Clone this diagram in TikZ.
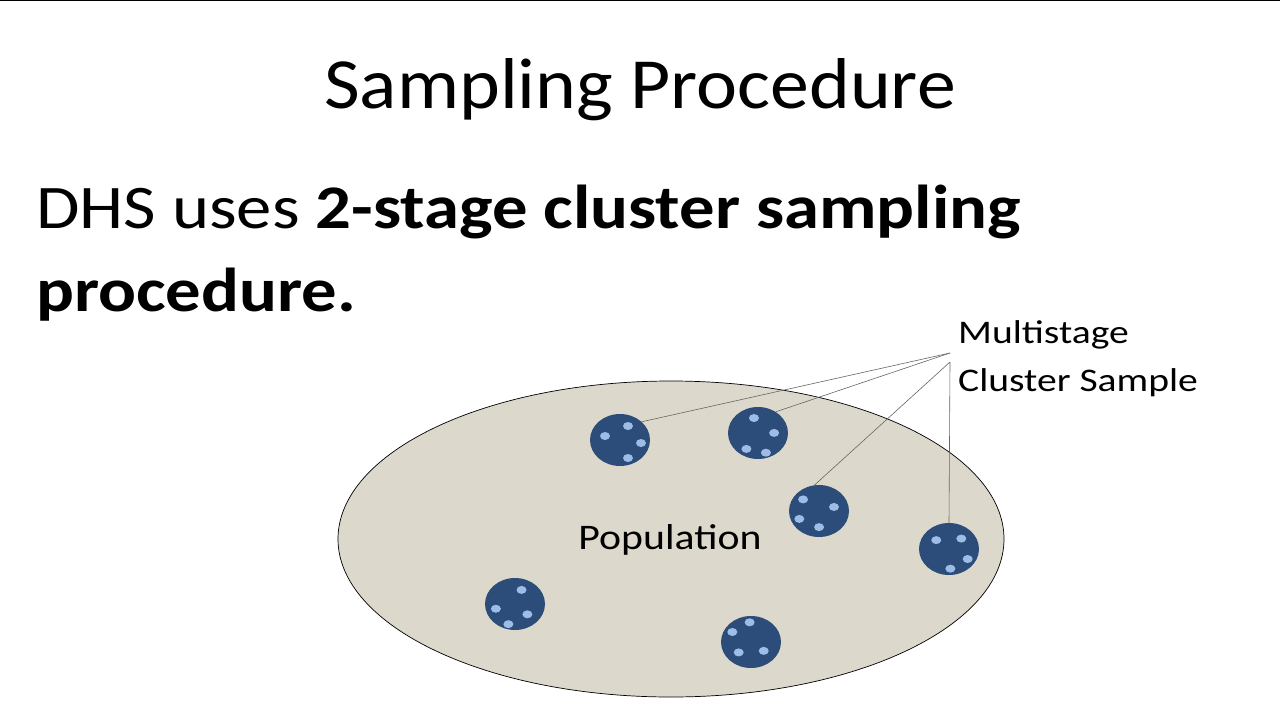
\documentclass[tikz,border=0pt]{standalone}
\usepackage{fontspec}
\usepackage{graphicx}
\setmainfont{Carlito}
\usetikzlibrary{shapes.geometric,calc}
\begin{document}
\begin{tikzpicture}[x=1pt,y=-1pt,
  cl/.style={ellipse,draw=none,fill=cluster,minimum width=60pt,minimum height=52pt,inner sep=0},
  dot/.style={fill=dotc},
  ln/.style={draw=gray!80!black,line width=0.6pt}]
\definecolor{cluster}{HTML}{2C4D79}
\definecolor{dotc}{HTML}{9DBDE6}
\definecolor{pop}{HTML}{DCD9CC}
\fill[white] (0,0) rectangle (1280,720);
\useasboundingbox (0,0) rectangle (1280,720);
\draw[black,line width=1.5pt] (0,0.5) -- (1280,0.5);
\node (title) at (640,90) {\fontsize{72}{80}\selectfont\scalebox{1.08}[1]{Sampling Procedure}};
\node[anchor=base west,inner sep=0] (l1) at (36,228) {\fontsize{62}{70}\selectfont\scalebox{1.14}[1]{DHS uses \textbf{2-stage cluster sampling}}};
\node[anchor=base west,inner sep=0] (l2) at (36,311) {\fontsize{62}{70}\selectfont\scalebox{1.14}[1]{\textbf{procedure.}}};
\node[ellipse,draw=black,line width=0.7pt,fill=pop,minimum width=666pt,minimum height=316pt] (popn) at (671,539) {};
\node (plab) at (670,540) {\fontsize{36}{40}\selectfont\scalebox{1.16}[1]{Population}};
\node[anchor=north west,align=left,inner sep=0,font=\fontsize{33}{48}\selectfont] (ms) at (958,320) {\scalebox{1.2}[1]{Multistage}\\\scalebox{1.2}[1]{Cluster Sample}};
\coordinate (j1) at (950,353);
\coordinate (j2) at (950,362);
\foreach \n/\x/\y/\r in {c1/620/440/0,c2/758/433/60,c3/819/511/150,c4/949/549/20,c5/515/604/100,c6/751/642/200}{
  \node[cl] (\n) at (\x,\y) {};
  \foreach \dx/\dy in {8/-14,-15/-4,21/3,8/18}{
    \fill[dot] ($(\x,\y)+({\dx*cos(\r)-\dy*sin(\r)},{\dx*sin(\r)+\dy*cos(\r)})$) ellipse (5 and 4);
  }
}
\draw[ln] (j1) -- (c1.40);
\draw[ln] (j1) -- (c2.50);
\draw[ln] (j2) -- (c3.100);
\draw[ln] (j2) -- (c4.north);
\end{tikzpicture}
\end{document}
